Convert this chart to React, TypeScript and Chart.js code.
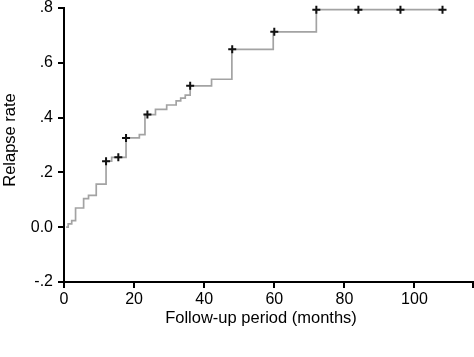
import React, { useEffect, useRef } from "react";
import { Chart, registerables } from "chart.js";

Chart.register(...registerables);

// Kaplan-Meier style cumulative relapse curve (step points: month, rate)
const stepMonths = [0.6, 1.2, 2.2, 3.3, 5.6, 7.0, 9.2, 12.0, 13.6, 17.7, 21.5, 23.1, 26.1, 29.3, 32.0, 33.3, 34.6, 36.0, 42.1, 47.9, 59.7, 72.0, 108.0];
const stepRates = [0.0, 0.012, 0.024, 0.07, 0.104, 0.116, 0.157, 0.241, 0.255, 0.326, 0.338, 0.411, 0.43, 0.446, 0.461, 0.471, 0.482, 0.516, 0.54, 0.649, 0.713, 0.794, 0.794];

// Censored observations (+ marks)
const censorMonths = [12.0, 15.5, 17.7, 23.8, 36.0, 48.0, 60.0, 72.0, 84.0, 96.0, 108.0];
const censorRates = [0.241, 0.255, 0.326, 0.411, 0.516, 0.649, 0.713, 0.794, 0.794, 0.794, 0.794];

const xTickValues = [0, 20, 40, 60, 80, 100];
const xMin = 0;
const xMax = 116.7;
const yTickValues = [-0.2, 0, 0.2, 0.4, 0.6, 0.8];
const yMin = -0.2;
const yMax = 0.8;

const xTitle = "Follow-up period (months)";
const yTitle = "Relapse rate";

const FONT = "'Liberation Sans', Arial, Helvetica, sans-serif";

function fmtY(v: number): string {
  if (Math.abs(v) < 1e-9) return "0.0";
  return v.toFixed(1).replace("0.", ".");
}

const axisTitles = {
  id: "axisTitles",
  afterDraw(chart: any) {
    const { ctx, chartArea } = chart;
    ctx.save();
    ctx.fillStyle = "#000";
    ctx.font = `16.5px ${FONT}`;
    ctx.textAlign = "center";
    ctx.textBaseline = "alphabetic";
    // x title, under the tick labels
    ctx.fillText(xTitle, chartArea.left + 197, chartArea.bottom + 41);
    // y title, rotated
    ctx.translate(15, chartArea.top + 132);
    ctx.rotate(-Math.PI / 2);
    ctx.fillText(yTitle, 0, 0);
    ctx.restore();
  },
};

export default function App() {
  const ref = useRef<HTMLCanvasElement | null>(null);

  useEffect(() => {
    document.body.style.margin = "0";
    const canvas = ref.current;
    if (!canvas) return;
    const chart = new Chart(canvas, {
      type: "line",
      data: {
        datasets: [
          {
            type: "scatter",
            data: censorMonths.map((x, i) => ({ x, y: censorRates[i] })),
            pointStyle: "cross",
            pointRadius: 4,
            pointBorderWidth: 2,
            borderColor: "#111",
            backgroundColor: "#111",
            showLine: false,
            clip: false,
            order: 0,
          } as any,
          {
            type: "line",
            data: stepMonths.map((x, i) => ({ x, y: stepRates[i] })),
            stepped: "before",
            borderColor: "#a3a3a3",
            borderWidth: 1.7,
            pointRadius: 0,
            fill: false,
            clip: false,
            order: 1,
          } as any,
        ],
      },
      plugins: [axisTitles],
      options: {
        animation: false,
        responsive: false,
        maintainAspectRatio: false,
        layout: { autoPadding: false, padding: { top: 0, right: 1, bottom: 0, left: 0 } },
        plugins: { legend: { display: false }, tooltip: { enabled: false } },
        scales: {
          x: {
            type: "linear",
            min: xMin,
            max: xMax,
            afterBuildTicks: (s: any) => {
              s.ticks = [...xTickValues, xMax].map((v) => ({ value: v }));
            },
            afterFit: (s: any) => {
              s.height = 75;
              s.paddingLeft = 0;
              s.paddingRight = 0;
            },
            ticks: {
              autoSkip: false,
              maxRotation: 0,
              padding: 2,
              color: "#000",
              font: { family: FONT, size: 16 },
              callback: (v: any) => (xTickValues.includes(Number(v)) ? String(v) : ""),
            },
            grid: {
              display: true,
              drawOnChartArea: false,
              drawTicks: true,
              tickLength: 6,
              color: "#000",
              lineWidth: 2,
            },
            border: { display: true, color: "#000", width: 2 },
          },
          y: {
            type: "linear",
            min: yMin,
            max: yMax,
            afterBuildTicks: (s: any) => {
              s.ticks = yTickValues.map((v) => ({ value: v }));
            },
            afterFit: (s: any) => {
              s.width = 64;
              s.paddingTop = 8;
              s.paddingBottom = 0;
            },
            ticks: {
              autoSkip: false,
              padding: 5,
              color: "#000",
              font: { family: FONT, size: 16 },
              callback: (v: any) => fmtY(Number(v)),
            },
            grid: {
              display: true,
              drawOnChartArea: false,
              drawTicks: true,
              tickLength: 6,
              color: "#000",
              lineWidth: 2,
            },
            border: { display: true, color: "#000", width: 2 },
          },
        },
      },
    });
    return () => chart.destroy();
  }, []);

  return (
    <div style={{ position: "fixed", left: 0, top: 0, width: 474, height: 357, background: "#fff" }}>
      <canvas ref={ref} width={474} height={357} style={{ display: "block" }} />
    </div>
  );
}
